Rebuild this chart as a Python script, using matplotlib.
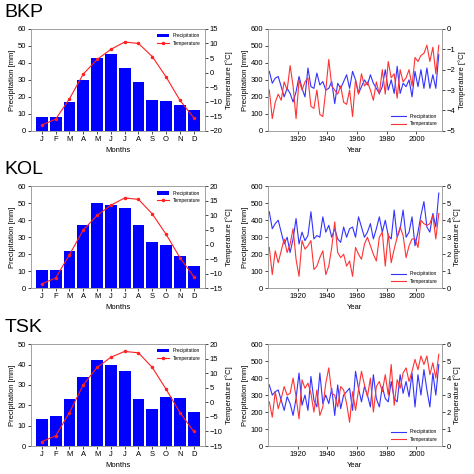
import numpy as np
import matplotlib
matplotlib.use('Agg')
import matplotlib.pyplot as plt

plt.rcParams['font.family'] = ['Liberation Sans', 'DejaVu Sans']

MONTHS = ['J', 'F', 'M', 'A', 'M', 'J', 'J', 'A', 'S', 'O', 'N', 'D']
STATIONS = ['BKP', 'KOL', 'TSK']

# monthly climatology
bkp_prec = [8, 8, 17, 30, 43, 45, 37, 28.5, 18, 17.5, 15, 12]
bkp_temp = [-18, -16, -9, -0.5, 4.5, 8, 10.5, 10, 5.5, -1.5, -9.5, -15.5]
kol_prec = [11, 11, 22, 37, 50, 49, 47, 37, 27, 25.5, 19, 13]
kol_temp = [-13.5, -11.5, -3.5, 5, 10, 13.5, 16, 15.5, 10.5, 3.5, -4.5, -11]
tsk_prec = [13.5, 14.5, 23, 34, 42, 40, 37, 23, 18, 24, 23.5, 16.5]
tsk_temp = [-13.5, -11.5, -3.5, 6, 12, 15.5, 17.5, 17, 12, 4.5, -3.5, -10]

# annual series, every second year from 1901
bkp_ann_prec = [350, 280, 310, 320, 260, 200, 250, 220, 170, 230, 320, 250, 200, 370, 260, 250, 340, 270, 290, 240,
                250, 290, 160, 280, 250, 290, 330, 250, 350, 300, 220, 260, 300, 270, 330, 280, 250, 220, 260, 360,
                240, 300, 220, 380, 220, 280, 260, 300, 200, 350, 260, 360, 250, 370, 250, 330, 250, 450]
bkp_ann_temp = [-3.0, -4.4, -3.6, -3.2, -3.5, -2.6, -3.0, -1.8, -2.8, -4.4, -2.5, -3.0, -2.6, -2.4, -3.8, -3.9, -3.0,
                -4.2, -4.3, -3.0, -1.5, -2.8, -3.0, -3.2, -2.8, -3.6, -3.7, -3.0, -4.3, -2.5, -3.2, -2.2, -2.8, -2.6,
                -3.0, -3.5, -2.6, -3.2, -2.0, -3.2, -1.6, -2.4, -2.2, -3.4, -2.0, -2.6, -2.4, -2.0, -2.8, -1.4, -1.6,
                -1.3, -1.2, -0.8, -1.6, -0.9, -2.2, -0.8]
kol_ann_prec = [450, 350, 380, 400, 330, 260, 300, 210, 290, 410, 260, 330, 280, 310, 450, 290, 310, 300, 420, 330,
                370, 300, 350, 290, 270, 360, 300, 350, 360, 300, 420, 360, 300, 330, 380, 290, 350, 420, 330, 400,
                310, 290, 460, 300, 350, 460, 300, 330, 420, 250, 330, 430, 510, 360, 330, 440, 360, 560]
kol_ann_temp = [2.4, 0.8, 2.2, 1.5, 2.2, 2.9, 2.1, 2.6, 3.5, 1.7, 0.7, 2.8, 2.3, 2.5, 2.8, 1.1, 1.3, 1.8, 2.2, 0.8,
                1.3, 2.4, 3.9, 2.1, 1.8, 2.0, 1.3, 1.6, 0.7, 2.4, 2.0, 1.7, 2.6, 3.0, 2.5, 2.0, 1.6, 3.0, 3.3, 1.3,
                3.2, 1.5, 2.3, 3.0, 3.6, 3.1, 1.8, 2.5, 2.9, 2.9, 2.4, 4.0, 3.8, 3.7, 3.8, 4.3, 2.9, 4.4]
tsk_ann_prec = [360, 300, 320, 330, 270, 210, 290, 250, 180, 280, 430, 240, 300, 210, 410, 270, 230, 430, 250, 300,
                250, 340, 180, 360, 220, 300, 320, 340, 210, 440, 340, 260, 350, 300, 230, 420, 280, 230, 350, 280,
                260, 380, 280, 260, 420, 310, 380, 290, 430, 230, 420, 300, 450, 330, 230, 430, 300, 480]
tsk_ann_temp = [2.6, 1.7, 3.2, 2.2, 2.8, 3.5, 3.0, 3.1, 4.0, 2.9, 1.6, 3.9, 3.4, 3.7, 3.1, 2.0, 3.3, 1.8, 2.3, 3.7,
                4.6, 3.1, 3.0, 2.3, 3.5, 3.3, 2.5, 1.4, 3.2, 2.1, 3.3, 4.4, 3.6, 2.9, 4.0, 2.0, 3.5, 3.8, 3.2, 4.2,
                3.0, 4.8, 2.4, 3.9, 3.4, 4.3, 4.6, 3.8, 4.4, 5.1, 4.5, 5.3, 4.8, 5.3, 4.2, 4.9, 4.0, 5.4]
years = np.arange(1901, 1901 + 2 * len(bkp_ann_prec), 2)

monthly = [(bkp_prec, bkp_temp, 60, (-20, 15)), (kol_prec, kol_temp, 60, (-15, 20)), (tsk_prec, tsk_temp, 50, (-15, 20))]
annual = [(bkp_ann_prec, bkp_ann_temp, (-5, 0)), (kol_ann_prec, kol_ann_temp, (0, 6)), (tsk_ann_prec, tsk_ann_temp, (0, 6))]

FS = 5.5
fig = plt.figure(figsize=(4.74, 4.74), dpi=100)
bottoms = [0.724, 0.392, 0.059]

def style(ax):
    ax.tick_params(labelsize=FS, length=2, width=0.5, pad=1.5)
    for s in ax.spines.values():
        s.set_linewidth(0.5)
        s.set_color('#999999')

for i, name in enumerate(STATIONS):
    b = bottoms[i]
    prec, temp, pmax, tlim = monthly[i]
    ax = fig.add_axes([0.065, b, 0.367, 0.215])
    x = np.arange(1, 13)
    ax.bar(x, prec, width=0.85, color='#0000ff', label='Precipitation')
    ax.set_xlim(0.2, 12.8)
    ax.set_ylim(0, pmax)
    ax.set_yticks(np.arange(0, pmax + 1, 10))
    ax.set_xticks(x)
    ax.set_xticklabels(MONTHS)
    ax.set_xlabel('Months', fontsize=FS, labelpad=3)
    ax.set_ylabel('Precipitation [mm]', fontsize=FS, labelpad=1)
    style(ax)
    ax2 = ax.twinx()
    ax2.plot(x, temp, color='#ff2020', lw=0.8, marker='o', ms=1.5, label='Temperature')
    ax2.set_ylim(*tlim)
    ax2.set_yticks(np.arange(tlim[0], tlim[1] + 1, 5))
    ax2.set_ylabel('Temperature [°C]', fontsize=FS, labelpad=2)
    style(ax2)
    h1, l1 = ax.get_legend_handles_labels()
    h2, l2 = ax2.get_legend_handles_labels()
    ax2.legend(h1 + h2, l1 + l2, loc='upper right', fontsize=3.5, frameon=False, handlelength=2.5)
    fig.text(0.01, b + 0.25, name, fontsize=14, va='center')

    aprec, atemp, alim = annual[i]
    ax = fig.add_axes([0.565, b, 0.367, 0.215])
    ax.plot(years, aprec, color='#3333ff', lw=0.8, label='Precipitation')
    ax.set_xlim(1900, 2017)
    ax.set_ylim(0, 600)
    ax.set_xticks([1920, 1940, 1960, 1980, 2000])
    ax.set_xlabel('Year', fontsize=FS, labelpad=3)
    ax.set_ylabel('Precipitation [mm]', fontsize=FS, labelpad=1)
    style(ax)
    ax2 = ax.twinx()
    ax2.plot(years, atemp, color='#ff3333', lw=0.8, label='Temperature')
    ax2.set_ylim(*alim)
    ax2.set_yticks(np.arange(alim[0], alim[1] + 1, 1))
    ax2.set_ylabel('Temperature [°C]', fontsize=FS, labelpad=2)
    style(ax2)
    h1, l1 = ax.get_legend_handles_labels()
    h2, l2 = ax2.get_legend_handles_labels()
    ax2.legend(h1 + h2, l1 + l2, loc='lower right', fontsize=3.5, frameon=False, handlelength=3)

fig.savefig('out.png', dpi=100)
